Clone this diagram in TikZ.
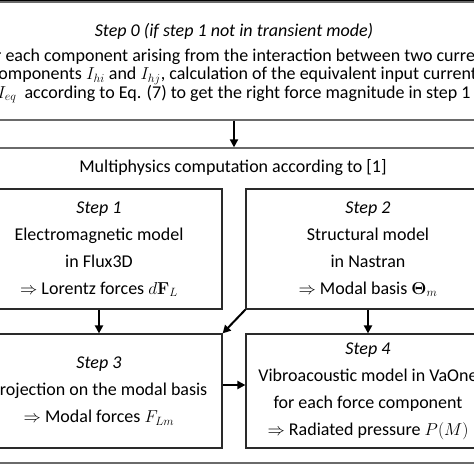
\documentclass[tikz,border=0pt]{standalone}
\usepackage[no-math]{fontspec}
\setmainfont{Carlito}
\usepackage{amsmath,bm}
\usetikzlibrary{arrows.meta}
\definecolor{boxgray}{HTML}{2A2A2A}
\definecolor{framegray}{HTML}{6A6A6A}
\begin{document}
\begin{tikzpicture}[x=1pt,y=-1pt,
  stepbox/.style={draw=boxgray, line width=1.2pt, rectangle, inner sep=0pt, align=center,
    font=\fontsize{18}{27}\selectfont},
  framebox/.style={draw=framegray, line width=1.3pt, rectangle, inner sep=0pt, align=center,
    font=\fontsize{18}{18.4}\selectfont},
  arr/.style={line width=2pt, -{Triangle[length=8pt,width=8pt]}},
  lbl/.style={font=\fontsize{18}{19}\selectfont, align=center, inner sep=0pt}]
\useasboundingbox (0,0) rectangle (474,474);
\clip (0,0) rectangle (474,474);
\fill[white] (0,0) rectangle (474,474);
% top black band
\fill[black] (0,0) rectangle (474,3);
% step 0
\node[framebox, minimum width=500pt, minimum height=118pt] (s0) at (234,61) {};
\node[framebox, draw=none, anchor=center] (s0t) at (234,63)
  {\textit{Step 0 (if step 1 not in transient mode)}\\[7pt]
   For each component arising from the interaction between two current\\
   components $I_{hi}$ and $I_{hj}$, calculation of the equivalent input current\\
   $I_{eq}$\ \ according to Eq. (7) to get the right force magnitude in step 1};
% big frame
\node[framebox, minimum width=500pt, minimum height=315pt] (big) at (234,305.5) {};
\node[lbl] (mp) at (233,168) {Multiphysics computation according to [1]};
% steps
\node[stepbox, minimum width=246pt, minimum height=120pt] (s1) at (99,249)
  {\textit{Step 1}\\ Electromagnetic model\\ in Flux3D\\ $\Rightarrow$ Lorentz forces $d\mathbf{F}_L$};
\node[stepbox, minimum width=244pt, minimum height=120pt] (s2) at (368,249)
  {\textit{Step 2}\\ Structural model\\ in Nastran\\ $\Rightarrow$ Modal basis $\bm{\Theta}_m$};
\node[stepbox, minimum width=246pt, minimum height=114pt] (s3) at (99,391)
  {\textit{Step 3}\\ Projection on the modal basis\\ $\Rightarrow$ Modal forces $F_{Lm}$};
\node[stepbox, minimum width=244pt, minimum height=114pt] (s4) at (368,391)
  {\textit{Step 4}\\ Vibroacoustic model in VaOne\\ for each force component\\ $\Rightarrow$ Radiated pressure $P(M)$};
% arrows
\draw[arr] (s0.south) -- (big.north);
\draw[arr] (s1.south) -- (s3.north);
\draw[arr] (s2.south) -- (s4.north);
\draw[arr] (s2.south west) -- (s3.north east);
\draw[arr] ([yshift=6pt]s3.east) -- ([yshift=6pt]s4.west);
\end{tikzpicture}
\end{document}
